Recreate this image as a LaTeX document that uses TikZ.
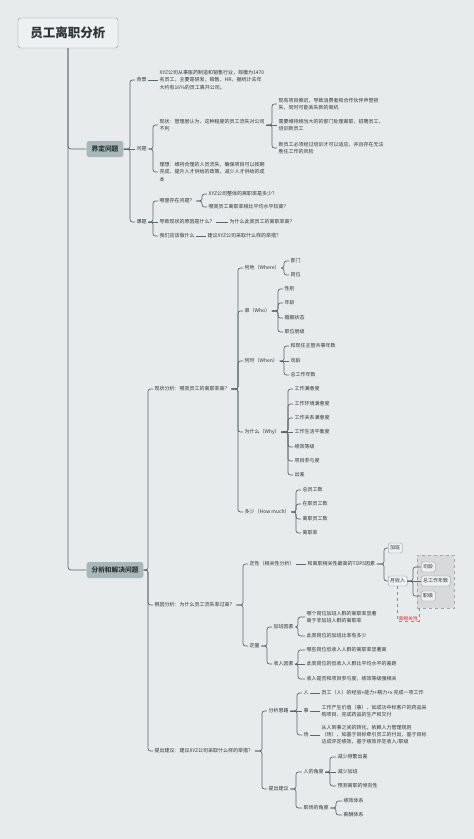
\documentclass[tikz,border=0pt]{standalone}
\usepackage{fontspec}
\setmainfont{Noto Sans CJK SC}
\usetikzlibrary{positioning,fit,backgrounds}
\definecolor{Ink}{HTML}{2E3537}
\definecolor{Muted}{HTML}{5C676A}
\definecolor{Paper}{HTML}{E7EBEB}
\definecolor{Pale}{HTML}{EEF1F1}
\definecolor{Topic}{HTML}{A8B7B9}
\definecolor{Rule}{HTML}{879294}
\definecolor{Zone}{HTML}{D8D9DA}
\definecolor{Accent}{HTML}{E0282C}
\tikzset{leaf/.style={anchor=west,inner sep=1.5pt,align=left,text=Ink,
    font=\fontsize{5}{7.3}\selectfont},
  rootbox/.style={draw=Rule,fill=Pale,rounded corners=2.5pt,minimum width=100pt,
    minimum height=30pt,text=Ink,font=\fontsize{12.5}{14}\selectfont\bfseries},
  topic/.style={fill=Topic,rounded corners=2.5pt,minimum height=16pt,inner xsep=5pt,
    text=Ink,font=\fontsize{6.7}{8}\selectfont\bfseries},
  chip/.style={leaf,draw=Rule,fill=Pale,rounded corners=1.5pt,inner sep=2pt,
    minimum height=10pt},
  link/.style={draw=Muted,line width=.7pt},
  tree/.style={link,rounded corners=2.5pt,to path={(\tikztostart.east)
    -| ([xshift=-#1]\tikztotarget.west) -- (\tikztotarget.west)}},
  tree/.default=5pt,
  rellink/.style={draw=Rule,dashed,line width=.5pt},
  zone/.style={draw=Rule!80,dashed,fill=Zone,line width=.5pt}}
\begin{document}
\begin{tikzpicture}[x=1pt,y=-1pt]
    \useasboundingbox (0,0) rectangle (474,839);
    \node[rootbox] (root) at (68,33) {员工离职分析};
    \node[topic] (jd) at (105,149) {界定问题};
    \node[topic] (fx) at (115,570) {分析和解决问题};
    % 界定问题
    \node[leaf] (bj) at (135,80) {背景};
    \node[leaf] (bjt) at (158,80) {XYZ公司从事医药制造和销售行业，规模为1470\\名员工，主要是研发，销售，HR，据统计去年\\大约有16\%的员工离开公司。};
    \node[leaf] (wt) at (135,149) {问题};
    \node[leaf] (xz) at (158,125) {现状：管理层认为，这种程度的员工流失对公司\\不利};
    \node[leaf] (lx) at (158,172) {理想：维持合理的人员流失，确保项目可以按期\\完成，提升人才供给的政策，减少人才供给的成\\本};
    \node[leaf] (xz1) at (277,104) {现有项目推迟，导致消费者和合作伙伴声誉损\\失，同时可能丢失新的商机};
    \node[leaf] (xz2) at (277,125) {需要维持相当大的的部门处理离职，招聘员工，\\培训新员工};
    \node[leaf] (xz3) at (277,148) {新员工必须经过培训才可以适应，并且存在无法\\胜任工作的风险};
    \node[leaf] (kt) at (135,222) {课题};
    \node[leaf] (nl) at (158,201) {哪里存在问题？};
    \node[leaf] (nl1) at (207,194) {XYZ公司整体的离职率是多少？};
    \node[leaf] (nl2) at (207,207) {哪类员工离职率相比平均水平较高？};
    \node[leaf] (yy) at (158,222) {导致现状的原因是什么？};
    \node[leaf] (yy1) at (228,222) {为什么此类员工的离职率高？};
    \node[leaf] (wm) at (158,236) {我们应该做什么};
    \node[leaf] (wm1) at (206,236) {建议XYZ公司采取什么样的举措？};
    % 现状分析
    \node[leaf] (xf) at (153,389) {现状分析：哪类员工的离职率高？};
    \node[leaf] (hd) at (243,268) {何地（Where）};
    \node[leaf] (hd1) at (289,261) {部门};
    \node[leaf] (hd2) at (289,275) {岗位};
    \node[leaf] (sh) at (243,311) {谁（Who）};
    \node[leaf] (sh1) at (283,289) {性别};
    \node[leaf] (sh2) at (283,303) {年龄};
    \node[leaf] (sh3) at (283,318) {婚姻状态};
    \node[leaf] (sh4) at (283,332) {职位层级};
    \node[leaf] (hs) at (243,361) {何时（When）};
    \node[leaf] (hs1) at (289,346) {和现任主管共事年数};
    \node[leaf] (hs2) at (289,361) {司龄};
    \node[leaf] (hs3) at (289,375) {总工作年数};
    \node[leaf] (ws) at (243,432) {为什么（Why）};
    \node[leaf] (ws1) at (293,389) {工作满意度};
    \node[leaf] (ws2) at (293,404) {工作环境满意度};
    \node[leaf] (ws3) at (293,418) {工作关系满意度};
    \node[leaf] (ws4) at (293,432) {工作生活平衡度};
    \node[leaf] (ws5) at (293,447) {绩效等级};
    \node[leaf] (ws6) at (293,461) {项目参与度};
    \node[leaf] (ws7) at (293,475) {出差};
    \node[leaf] (dsh) at (243,512) {多少（How much）};
    \node[leaf] (dsh1) at (301,490) {总员工数};
    \node[leaf] (dsh2) at (301,504) {在职员工数};
    \node[leaf] (dsh3) at (301,519) {离职员工数};
    \node[leaf] (dsh4) at (301,533) {离职率};
    % 根因分析
    \node[leaf] (gy) at (153,605) {根因分析：为什么员工流失率过高？};
    \node[leaf] (dx) at (248,564) {定性（相关性分析）};
    \node[leaf] (dxt) at (306,564) {和离职相关性最高的TOP5因素};
    \node[chip] (jb) at (388,548) {加班};
    \node[chip] (ysr) at (388,581) {月收入};
    \node[chip] (sl) at (421,567) {司龄};
    \node[chip] (zgz) at (421,581) {总工作年数};
    \node[chip] (zj) at (421,596) {职级};
    \node[leaf] (dl) at (248,646) {定量};
    \node[leaf] (jbys) at (272,627) {加班因素};
    \node[leaf] (jb1) at (305,617) {哪个岗位加班人群的离职率显著\\高于非加班人群的离职率};
    \node[leaf] (jb2) at (305,636) {此类岗位的加班比率有多少};
    \node[leaf] (srys) at (272,664) {收入因素};
    \node[leaf] (sr1) at (305,650) {哪些岗位低收入人群的离职率显著高};
    \node[leaf] (sr2) at (305,664) {此类岗位的低收入人群比平均水平的差距};
    \node[leaf] (sr3) at (305,679) {收入是否和项目参与度，绩效等级强相关};
    % 提出建议
    \node[leaf] (tc) at (153,751) {提出建议：建议XYZ公司采取什么样的举措？};
    \node[leaf] (fxsl) at (267,711) {分析思路};
    \node[leaf] (ren) at (302,693) {人};
    \node[leaf] (rent) at (320,693) {员工（人）的经验+能力+精力+x 完成一项工作};
    \node[leaf] (shi) at (302,711) {事};
    \node[leaf] (shit) at (320,711) {工作产生价值（事），如成功中标客户的药品采\\购项目，完成药品的生产和交付};
    \node[leaf] (chang) at (302,735) {场};
    \node[leaf] (changt) at (320,735) {从人到事之间的转化，依赖人力管理规则\\（场），如基于目标牵引员工的付出，基于目标\\达成评定绩效，基于绩效评定收入/职级};
    \node[leaf] (tcjy) at (267,789) {提出建议};
    \node[leaf] (rdjd) at (302,772) {人的角度};
    \node[leaf] (rd1) at (336,757) {减少频繁出差};
    \node[leaf] (rd2) at (336,772) {减少加班};
    \node[leaf] (rd3) at (336,786) {预测离职的倾向性};
    \node[leaf] (zcjd) at (302,808) {职场的角度};
    \node[leaf] (zc1) at (342,801) {绩效体系};
    \node[leaf] (zc2) at (342,815) {薪酬体系};
    \begin{scope}[on background layer]
      \fill[Paper] (0,0) rectangle (474,839);
      \node[zone,fit=(sl)(zgz)(zj),inner xsep=4pt,inner ysep=7pt] (zone) {};
    \end{scope}
    \draw[link,rounded corners=3pt] (root.south) |- (jd.west);
    \draw[link,rounded corners=3pt] (root.south) |- (fx.west);
    \path (jd) edge[tree] (bj) edge[tree] (kt);
    \draw[link] (jd.east) -- (wt.west);
    \draw[link] (bj.east) -- (bjt.west);
    \path (wt) edge[tree] (xz) edge[tree] (lx);
    \path (xz) edge[tree] (xz1) edge[tree] (xz3);
    \draw[link] (xz.east) -- (xz2.west);
    \path (kt) edge[tree] (nl) edge[tree] (wm);
    \draw[link] (kt.east) -- (yy.west);
    \path (nl) edge[tree] (nl1) edge[tree] (nl2);
    \draw[link] (yy.east) -- (yy1.west);
    \draw[link] (wm.east) -- (wm1.west);
    \path (fx) edge[tree] (xf) edge[tree] (gy) edge[tree] (tc);
    \path (xf) edge[tree] (hd) edge[tree] (sh) edge[tree] (hs) edge[tree] (ws) edge[tree] (dsh);
    \path (hd) edge[tree] (hd1) edge[tree] (hd2);
    \path (sh) edge[tree] (sh1) edge[tree] (sh2) edge[tree] (sh3) edge[tree] (sh4);
    \path (hs) edge[tree] (hs1) edge[tree] (hs3);
    \draw[link] (hs.east) -- (hs2.west);
    \path (ws) edge[tree] (ws1) edge[tree] (ws2) edge[tree] (ws3)
      edge[tree] (ws5) edge[tree] (ws6) edge[tree] (ws7);
    \draw[link] (ws.east) -- (ws4.west);
    \path (dsh) edge[tree] (dsh1) edge[tree] (dsh2) edge[tree] (dsh3) edge[tree] (dsh4);
    \path (gy) edge[tree] (dx) edge[tree] (dl);
    \draw[link] (dx.east) -- (dxt.west);
    \path (dxt) edge[tree=4pt] (jb) edge[tree=4pt] (ysr);
    \path (ysr) edge[tree=8pt] (sl) edge[tree=8pt] (zj);
    \draw[link] (ysr.east) -- (zgz.west);
    \draw[rellink] (ysr.south) -- ++(0,35) -| ([xshift=2pt]zone.south west)
      node[pos=.25,above=-.5pt,inner sep=1pt,text=Accent,
        font=\fontsize{4.8}{6}\selectfont] (gxg) {高相关性};
    \path (dl) edge[tree] (jbys) edge[tree] (srys);
    \path (jbys) edge[tree=7pt] (jb1) edge[tree=7pt] (jb2);
    \path (srys) edge[tree=7pt] (sr1) edge[tree=7pt] (sr3);
    \draw[link] (srys.east) -- (sr2.west);
    \path (tc) edge[tree] (fxsl) edge[tree] (tcjy);
    \path (fxsl) edge[tree] (ren) edge[tree] (chang);
    \draw[link] (fxsl.east) -- (shi.west);
    \draw[link] (ren.east) -- (rent.west);
    \draw[link] (shi.east) -- (shit.west);
    \draw[link] (chang.east) -- (changt.west);
    \path (tcjy) edge[tree=6pt] (rdjd) edge[tree=6pt] (zcjd);
    \path (rdjd) edge[tree=6pt] (rd1) edge[tree=6pt] (rd3);
    \draw[link] (rdjd.east) -- (rd2.west);
    \path (zcjd) edge[tree=6pt] (zc1) edge[tree=6pt] (zc2);
  \end{tikzpicture}
\end{document}
